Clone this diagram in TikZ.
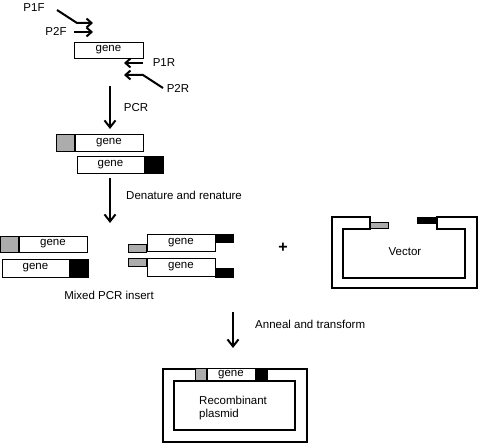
\documentclass[tikz,border=0pt]{standalone}
\usepackage{fontspec}
\setmainfont{Liberation Sans}
\usetikzlibrary{positioning}
\usetikzlibrary{arrows.meta}

\begin{document}
\begin{tikzpicture}[x=1pt, y=-1pt,
                genebox/.style={rectangle, draw, fill=white, line width=0.8pt, minimum width=68pt, minimum height=17pt, inner sep=0pt, font=\fontsize{11.5}{13}\selectfont},
                graytab/.style={rectangle, draw, fill=gray!65, line width=0.8pt, minimum width=18pt, minimum height=17pt, inner sep=0pt},
                blacktab/.style={rectangle, draw, fill=black, line width=0.8pt, minimum width=19pt, minimum height=17pt, inner sep=0pt},
                txt/.style={inner sep=0pt, font=\fontsize{11.5}{13}\selectfont},
                primer/.style={line width=2pt, -{Straight Barb[length=5pt,width=9pt]}},
                steparrow/.style={line width=2pt, -{Straight Barb[length=7pt,width=11pt]}},
                band/.style={line width=1.4pt},
            ]
            \useasboundingbox (0,0) rectangle (480,443);

            % Nodes
            \node[genebox, minimum width=69pt, minimum height=16pt] (gene_start) at (108.5,50) {gene};
            \node[txt] (P1F) at (34,8) {P1F};
            \node[txt] (P2F) at (56,31) {P2F};
            \node[txt] (P1R) at (164,63) {P1R};
            \node[txt] (P2R) at (178,88) {P2R};

            \node[genebox] (gene_pcr_1) at (109,142.5) {gene};
            \node[graytab, anchor=east] (gray_pcr_1) at (gene_pcr_1.west) {};
            \node[genebox, minimum width=67pt] (gene_pcr_2) at (110.5,164.5) {gene};
            \node[blacktab, anchor=west] (black_pcr_2) at (gene_pcr_2.east) {};
            \node[txt] (PCR) at (136,108) {PCR};

            \node[txt, anchor=west] (denature) at (126,195) {Denature and renature};

            \node[genebox, minimum height=16pt] (gene_mix_1) at (53,244) {gene};
            \node[graytab, minimum height=16pt, anchor=east] (gray_mix_1) at (gene_mix_1.west) {};
            \node[genebox, minimum width=67pt, minimum height=18pt] (gene_mix_2) at (35.5,268) {gene};
            \node[blacktab, minimum height=18pt, anchor=west] (black_mix_2) at (gene_mix_2.east) {};

            \node[genebox] (gene_mix_3) at (181,242.5) {gene};
            \node[graytab, minimum height=8pt, anchor=south east] (gray_mix_3) at ([yshift=-1pt]gene_mix_3.south west) {};
            \node[blacktab, minimum width=18pt, minimum height=8pt, anchor=north west] (black_mix_3) at (gene_mix_3.north east) {};
            \node[genebox, minimum height=18pt] (gene_mix_4) at (181,267) {gene};
            \node[graytab, minimum height=8pt, anchor=north east] (gray_mix_4) at (gene_mix_4.north west) {};
            \node[blacktab, minimum width=18pt, minimum height=9pt, anchor=south west] (black_mix_4) at ([yshift=-1pt]gene_mix_4.south east) {};
            \node[txt] (mixed) at (109,295) {Mixed PCR insert};

            \node[inner sep=0pt, font=\fontsize{16}{16}\selectfont\bfseries] (plus) at (283,248) {+};

            % Vector
            \draw[band] (370,217) -- (332,217) -- (332,288) -- (477,288) -- (477,217) -- (437,217)
                -- (437,229) -- (465,229) -- (465,278) -- (343,278) -- (343,229) -- (370,229) -- cycle;
            \node[graytab, minimum height=6pt, anchor=south west] (gray_vector) at (370,229) {};
            \node[blacktab, minimum height=6pt, anchor=north east] (black_vector) at (437,217) {};
            \node[txt] (vector) at (405,252) {Vector};

            \node[txt, anchor=west] (anneal) at (255,324) {Anneal and transform};

            % Recombinant plasmid
            \draw[band] (163,369) rectangle (307,442);
            \draw[band] (174,381) rectangle (295,430);
            \node[genebox, minimum width=48pt, minimum height=12pt, line width=1pt] (gene_plasmid) at (231,375) {gene};
            \node[graytab, minimum width=11pt, minimum height=12pt, line width=1pt, anchor=east] (gray_plasmid) at (gene_plasmid.west) {};
            \node[blacktab, minimum width=11pt, minimum height=12pt, line width=1pt, anchor=west] (black_plasmid) at (gene_plasmid.east) {};
            \node[txt, anchor=west, align=left] (recombinant) at (199,408) {Recombinant\\plasmid};

            % Primer ends and arrow ends
            \coordinate (P1F_start) at (57,10);
            \coordinate (P1F_bend) at (77,23);
            \coordinate (P1F_end) at (93,23);
            \coordinate (P2F_start) at (74,32);
            \coordinate (P2F_end) at (93,32);
            \coordinate (P1R_start) at (143,63);
            \coordinate (P1R_end) at (124,63);
            \coordinate (P2R_start) at (163,88);
            \coordinate (P2R_bend) at (143,75);
            \coordinate (P2R_end) at (124,75);
            \coordinate (pcr_top) at (110,86);
            \coordinate (pcr_bottom) at (110,129);
            \coordinate (denature_top) at (110,178);
            \coordinate (denature_bottom) at (110,223);
            \coordinate (anneal_top) at (233,312);
            \coordinate (anneal_bottom) at (233,348);

            %Lines
            \draw[primer] (P1F_start) -- (P1F_bend) -- (P1F_end);
            \draw[primer] (P2F_start) -- (P2F_end);
            \draw[primer] (P1R_start) -- (P1R_end);
            \draw[primer] (P2R_start) -- (P2R_bend) -- (P2R_end);

            \draw[steparrow] (pcr_top) -- (pcr_bottom);
            \draw[steparrow] (denature_top) -- (denature_bottom);
            \draw[steparrow] (anneal_top) -- (anneal_bottom);
        \end{tikzpicture}
\end{document}
